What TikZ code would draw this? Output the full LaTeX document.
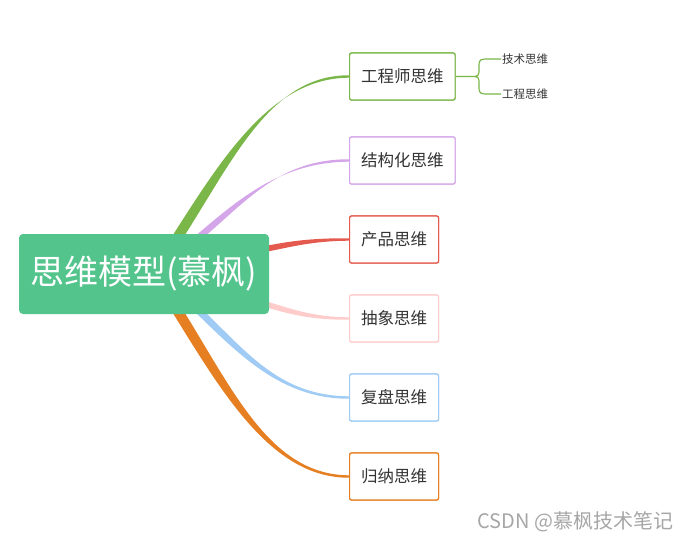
\documentclass[tikz,border=0pt]{standalone}
\usepackage{fontspec}
\newfontfamily\cjk{Noto Sans CJK SC}
\definecolor{cRoot}{HTML}{52C48C}
\definecolor{cG}{HTML}{7AB648}
\definecolor{cP}{HTML}{D4A5E8}
\definecolor{cR}{HTML}{E55A4E}
\definecolor{cK}{HTML}{FFCCCC}
\definecolor{cB}{HTML}{9FCBF5}
\definecolor{cO}{HTML}{E67E22}
\definecolor{txt}{HTML}{333333}
\tikzset{
 box/.style={draw=#1,line width=1.2pt,rounded corners=2pt,fill=white,minimum height=47pt,inner xsep=11.5pt,anchor=west,font=\cjk\fontsize{16.5}{18}\selectfont,text=txt},
 small/.style={anchor=west,font=\cjk\fontsize{11.5}{13}\selectfont,text=txt,inner sep=1pt}
}
% #1 colour, #2 start, #3 end, #4 start half-offset x, #5 start half-offset y
\newcommand{\branch}[5]{%
 \path let \p1=#2, \p2=#3 in
  [fill=#1] (\x1-#4,\y1-#5) .. controls ({\x1+0.3*(\x2-\x1)-#4},{\y1+0.5*(\y2-\y1)-#5}) and ({\x1+0.55*(\x2-\x1)},{\y2-1.5pt}) .. (\x2,\y2-1.2pt)
  -- (\x2,\y2+1.2pt) .. controls ({\x1+0.55*(\x2-\x1)},{\y2+1.5pt}) and ({\x1+0.3*(\x2-\x1)+#4},{\y1+0.5*(\y2-\y1)+#5}) .. (\x1+#4,\y1+#5) -- cycle;}
\usetikzlibrary{calc}
\begin{document}
\begin{tikzpicture}[x=1pt,y=-1pt]
\useasboundingbox (0,0) rectangle (689,544);
\coordinate (sG) at (177,238);
\coordinate (sP) at (198,238);
\coordinate (sR) at (265,249);
\coordinate (sK) at (265,304);
\coordinate (sB) at (198,310);
\coordinate (sO) at (177,310);
\node[box=cG] (g) at (349,76.5) {工程师思维};
\node[box=cP] (p) at (349,160.5) {结构化思维};
\node[box=cR] (r) at (349,239.5) {产品思维};
\node[box=cK] (k) at (349,318.5) {抽象思维};
\node[box=cB] (b) at (349,397.5) {复盘思维};
\node[box=cO] (o) at (349,476.5) {归纳思维};
\branch{cG}{(sG)}{(g.west)}{6pt}{0pt}
\branch{cP}{(sP)}{(p.west)}{5pt}{0pt}
\branch{cR}{(sR)}{(r.west)}{0pt}{3pt}
\branch{cK}{(sK)}{(k.west)}{0pt}{3pt}
\branch{cB}{(sB)}{(b.west)}{5pt}{0pt}
\branch{cO}{(sO)}{(o.west)}{6pt}{0pt}
\node[box=cG] at (349,76.5) {工程师思维};
\node[box=cP] at (349,160.5) {结构化思维};
\node[box=cR] at (349,239.5) {产品思维};
\node[box=cK] at (349,318.5) {抽象思维};
\node[box=cB] at (349,397.5) {复盘思维};
\node[box=cO] at (349,476.5) {归纳思维};
\node[fill=cRoot,rounded corners=4pt,minimum width=250pt,minimum height=80pt,text=white,font=\cjk\fontsize{34}{36}\selectfont] (root) at (144,274) {思维模型(慕枫)};
\node[small] (t1) at (501,59) {技术思维};
\node[small] (t2) at (501,94) {工程思维};
\draw[cG,line width=1.2pt] (g.east) -- (470,76.5) .. controls (479,76.5) .. (479,68) .. controls (479,59) .. (490,59) -- (t1.west)
  (470,76.5) .. controls (479,76.5) .. (479,85) .. controls (479,94) .. (490,94) -- (t2.west);
\node[anchor=east,text=gray!70,font=\cjk\fontsize{20}{22}\selectfont] (wm) at (677,522) {CSDN @慕枫技术笔记};
\end{tikzpicture}
\end{document}
